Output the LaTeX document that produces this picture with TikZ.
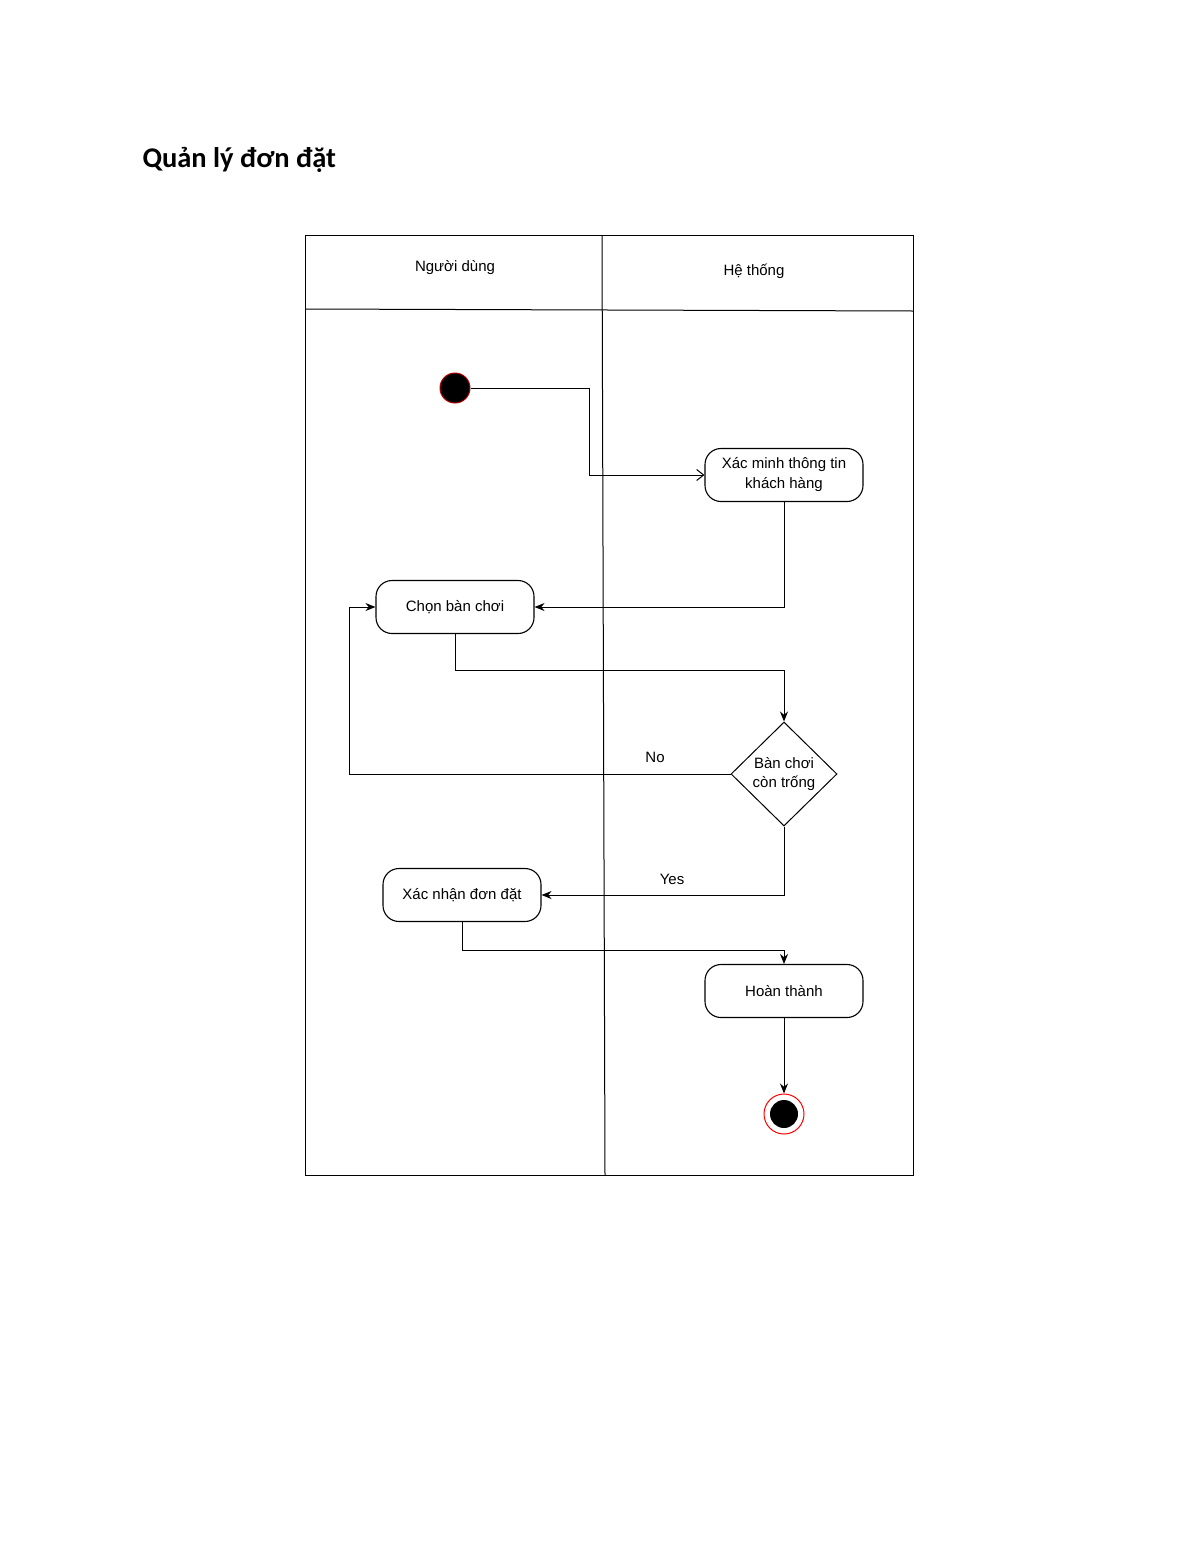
\documentclass[tikz,border=0pt]{standalone}
\usepackage{fontspec}
\setmainfont{Liberation Sans}
\newfontfamily\titlefont{Carlito}
\usetikzlibrary{shapes.geometric,arrows.meta}
\begin{document}
\begin{tikzpicture}[x=1pt,y=-1pt,
  act/.style={draw,line width=1.1pt,rounded corners=16pt,minimum width=158pt,minimum height=53pt,align=center,font=\fontsize{15}{20}\selectfont},
  lbl/.style={font=\fontsize{15}{18}\selectfont},
  flow/.style={draw,line width=1pt,-{Stealth[length=10pt,width=8pt]}},
  oflow/.style={draw,line width=1pt,-{Straight Barb[length=7pt,width=11pt]}}]
\useasboundingbox (0,0) rectangle (1200,1553);
\node[anchor=west,font=\titlefont\bfseries\fontsize{28.5}{32}\selectfont] (title) at (139,160) {Quản lý đơn đặt};
\draw[line width=1pt] (305,235) rectangle (913,1175);
\draw[line width=1pt] (305,309) -- (913,311);
\draw[line width=1pt] (602,235) -- (605,1175);
\node[lbl] (h1) at (455,268) {Người dùng};
\node[lbl] (h2) at (754,271) {Hệ thống};
\node[circle,fill=black,draw=red!70!black,line width=1pt,minimum size=30pt,inner sep=0] (start) at (455,388) {};
\node[act] (n1) at (784,475) {Xác minh thông tin\\khách hàng};
\node[act] (n2) at (455,607) {Chọn bàn chơi};
\node[diamond,draw,line width=1pt,minimum width=106pt,minimum height=104pt,inner sep=0,align=center,font=\fontsize{15}{19}\selectfont] (d) at (784,774) {Bàn chơi\\còn trống};
\node[act] (n3) at (462,895) {Xác nhận đơn đặt};
\node[act] (n4) at (784,991) {Hoàn thành};
\node[circle,draw=red,line width=1pt,minimum size=40pt,inner sep=0] (end) at (784,1114) {};
\node[circle,fill=black,minimum size=28pt,inner sep=0] (endin) at (784,1114) {};
\draw[oflow] (start.east) -- (589,388) -- (589,475) -- (n1.west);
\draw[flow] (n1.south) -- (784,607) -- (n2.east);
\draw[flow] (n2.south) -- (455,670) -- (784,670) -- (d.north);
\draw[flow] (d.west) -- (349,774) -- (349,607) -- (n2.west);
\node[lbl] (no) at (655,757) {No};
\draw[flow] (d.south) -- (784,895) -- (n3.east);
\node[lbl] (yes) at (672,879) {Yes};
\draw[flow] (n3.south) -- (462,950) -- (784,950) -- (n4.north);
\draw[flow] (n4.south) -- (end.north);
\end{tikzpicture}
\end{document}
